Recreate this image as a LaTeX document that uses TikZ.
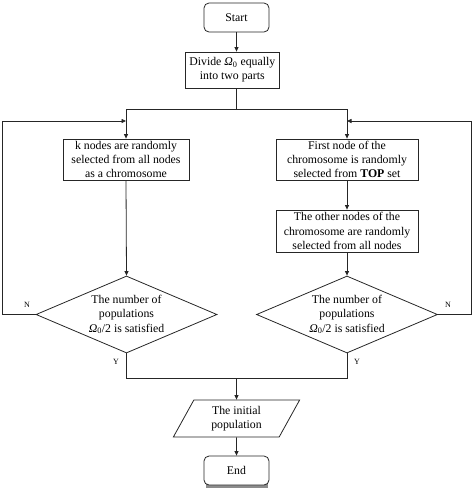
\documentclass[tikz,border=0pt]{standalone}
\usepackage{fontspec}
\setmainfont{Liberation Serif}
\usetikzlibrary{arrows.meta,shapes.geometric}
\tikzset{
  base/.style={draw=black!85, line width=0.8pt, align=center, font=\fontsize{11.8}{14.3}\selectfont, inner sep=1pt},
  procbox/.style={base, rectangle},
  termbox/.style={base, rectangle, rounded corners=5pt},
  decbox/.style={base, diamond, shape aspect=2.35, inner sep=0pt, minimum width=181pt, minimum height=77pt},
  iobox/.style={base, trapezium, trapezium left angle=65, trapezium right angle=115, trapezium stretches=true, minimum width=127pt, minimum height=37pt},
  conn/.style={draw=black!85, line width=0.8pt},
  arr/.style={conn, -{Triangle[length=4.5pt,width=4pt]}},
  lab/.style={font=\fontsize{8}{9}\selectfont}
}
\newcommand{\Om}{\textit{Ω}\textsubscript{0}}
\begin{document}
\begin{tikzpicture}[x=1pt,y=-1pt]
\useasboundingbox (0,0) rectangle (474,488);
% shadow of End
\fill[black!45] (206,457.5) rectangle (268,487.5);
\node[termbox, minimum width=65pt, minimum height=29pt] (start) at (236.5,17.5) {Start};
\node[procbox, minimum width=94pt, minimum height=36pt] (div) at (232.3,70) {Divide \Om{} equally\\into two parts};
\node[procbox, minimum width=126pt, minimum height=41pt] (kbox) at (126,159.5) {k nodes are randomly\\selected from all nodes\\as a chromosome};
\node[procbox, minimum width=142pt, minimum height=41pt] (first) at (347,159.5) {First node of the\\chromosome is randomly\\selected from \textbf{TOP} set};
\node[procbox, minimum width=142pt, minimum height=42pt] (other) at (347,231) {The other nodes of the\\chromosome are randomly\\selected from all nodes};
\node[decbox] (decl) at (126.5,314.5) {The number of\\populations\\\Om/2 is satisfied};
\node[decbox] (decr) at (347,314.5) {The number of\\populations\\\Om/2 is satisfied};
\node[iobox] (init) at (236.5,418.5) {The initial\\population};
\node[termbox, fill=white, minimum width=65pt, minimum height=29pt] (end) at (236.5,470.5) {End};
% coordinates
\coordinate (splitc) at (236.7,109);
\coordinate (splitl) at (126,109);
\coordinate (splitr) at (347,109);
\coordinate (fbl1) at (2,314.5);
\coordinate (fbl2) at (2,121);
\coordinate (fbr1) at (471,314.5);
\coordinate (fbr2) at (471,121);
\coordinate (mergel) at (126.5,378);
\coordinate (merger) at (347,378);
\coordinate (mergec) at (236.5,378);
% connectors
\draw[arr] (start.south) -- (start.south |- div.north);
\draw[conn] (splitc |- div.south) -- (splitc);
\draw[conn] (splitl) -- (splitr);
\draw[arr] (splitl) -- (kbox.north);
\draw[arr] (splitr) -- (first.north);
\draw[arr] (first.south) -- (other.north);
\draw[arr] (kbox.south) -- (decl.north);
\draw[arr] (other.south) -- (decr.north);
\draw[arr] (decl.west) -- (fbl1) -- (fbl2) -- (fbl2 -| kbox.north);
\draw[arr] (decr.east) -- (fbr1) -- (fbr2) -- (fbr2 -| first.north);
\draw[conn] (decl.south) -- (mergel) -- (merger) -- (decr.south);
\draw[arr] (mergec) -- (init.north);
\draw[arr] (init.south) -- (end.north);
% labels
\node[lab] (nl) at (27,305) {N};
\node[lab] (nr) at (448,305) {N};
\node[lab] (yl) at (116,362) {Y};
\node[lab] (yr) at (357,362) {Y};
\end{tikzpicture}
\end{document}
